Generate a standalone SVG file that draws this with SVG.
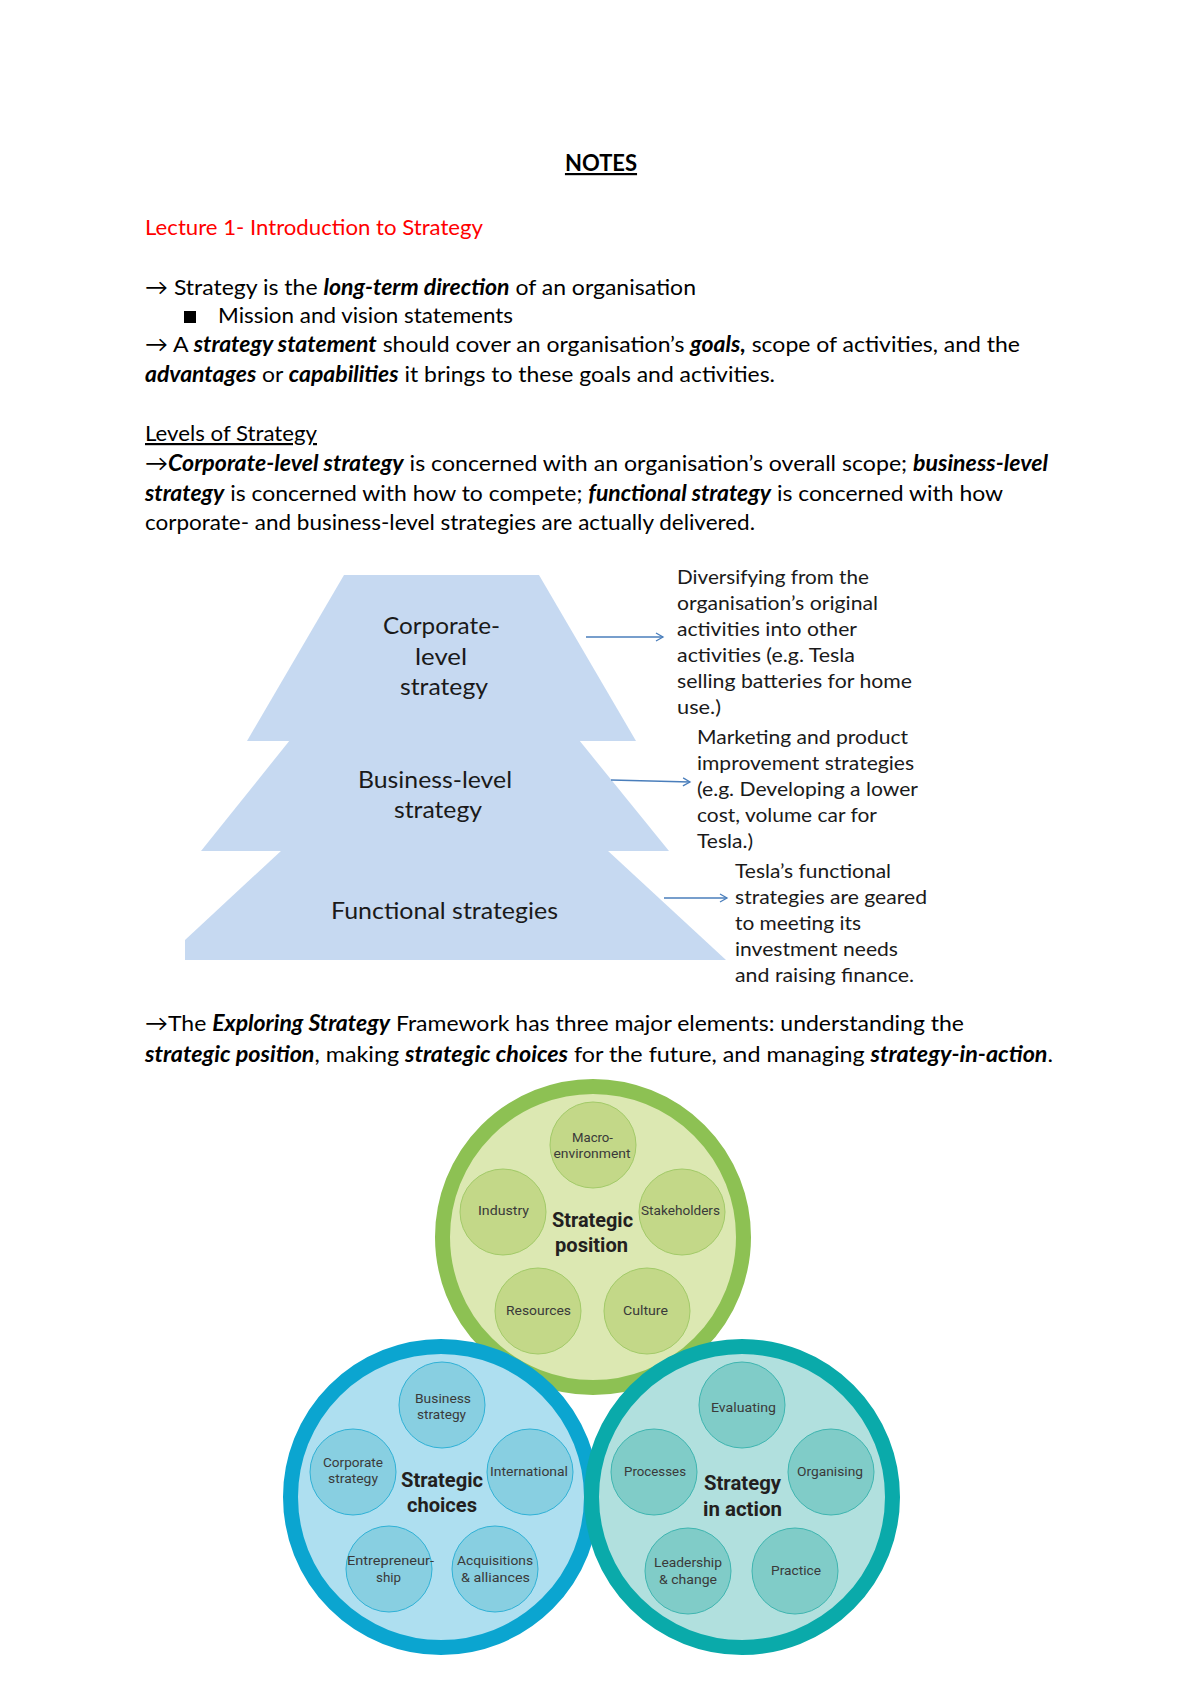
<svg xmlns="http://www.w3.org/2000/svg" width="1200" height="1698" viewBox="0 0 1200 1698">
<style>
.t{font-family:Lato,"Liberation Sans",sans-serif;font-size:22px;fill:#000}
.bi{font-weight:bold;font-style:italic}
.h{font-weight:bold;text-decoration:underline;text-anchor:middle}
.red{fill:#FF0000}
.u{text-decoration:underline}
.pyr{font-family:Lato,"Liberation Sans",sans-serif;font-size:24px;fill:#1a1a1a;text-anchor:middle}
.tier{fill:#C6D9F1}
.note{font-family:Lato,"Liberation Sans",sans-serif;font-size:20px;fill:#1a1a1a}
.conn{stroke:#4A7EBB;stroke-width:1.3;fill:none}
.big{font-family:Roboto,"Liberation Sans",sans-serif;font-weight:bold;font-size:19.5px;fill:#231F20;text-anchor:middle}
.sm{font-family:Roboto,"Liberation Sans",sans-serif;font-size:13.5px;fill:#3a3a3a;text-anchor:middle}
.gR{fill:#DCE8B2;stroke:#8DC153;stroke-width:15}
.gS{fill:#C3D888;stroke:#A2CA68;stroke-width:1}
.bR{fill:#AEDFF0;stroke:#0BA5D0;stroke-width:15}
.bS{fill:#88CFE1;stroke:#2FB1D6;stroke-width:1}
.tR{fill:#B1E0DE;stroke:#0AAAAA;stroke-width:15}
.tS{fill:#80CCC8;stroke:#3EB5B0;stroke-width:1}
</style>
<defs>
<marker id="ah" markerUnits="userSpaceOnUse" markerWidth="10" markerHeight="10" refX="8" refY="5" orient="auto">
<path d="M1,1 L8,5 L1,9" fill="none" stroke="#4A7EBB" stroke-width="1.3"/>
</marker>
</defs>
<rect width="1200" height="1698" fill="#ffffff"/>

<g id="notes-text">
<text class="t h" x="601" y="171">NOTES</text>
<text class="t red" x="145" y="235" textLength="338" lengthAdjust="spacingAndGlyphs">Lecture 1- Introduction to Strategy</text>
<text class="t" x="145" y="295" textLength="551" lengthAdjust="spacingAndGlyphs">→ Strategy is the <tspan class="bi">long-term direction</tspan> of an organisation</text>
<rect x="184" y="311" width="12" height="12" fill="#000"/>
<text class="t" x="218" y="323" textLength="295" lengthAdjust="spacingAndGlyphs">Mission and vision statements</text>
<text class="t" x="145" y="352" textLength="875" lengthAdjust="spacingAndGlyphs">→ A <tspan class="bi">strategy statement</tspan> should cover an organisation’s <tspan class="bi">goals,</tspan> scope of activities, and the</text>
<text class="t" x="145" y="382" textLength="630" lengthAdjust="spacingAndGlyphs"><tspan class="bi">advantages</tspan> or <tspan class="bi">capabilities</tspan> it brings to these goals and activities.</text>
<text class="t u" x="145" y="441" textLength="172" lengthAdjust="spacingAndGlyphs">Levels of Strategy</text>
<text class="t" x="145" y="471" textLength="903" lengthAdjust="spacingAndGlyphs">→<tspan class="bi">Corporate-level strategy</tspan> is concerned with an organisation’s overall scope; <tspan class="bi">business-level</tspan></text>
<text class="t" x="145" y="501" textLength="858" lengthAdjust="spacingAndGlyphs"><tspan class="bi">strategy</tspan> is concerned with how to compete; <tspan class="bi">functional strategy</tspan> is concerned with how</text>
<text class="t" x="145" y="530" textLength="610" lengthAdjust="spacingAndGlyphs">corporate- and business-level strategies are actually delivered.</text>
<text class="t" x="145" y="1031" textLength="819" lengthAdjust="spacingAndGlyphs">→The <tspan class="bi">Exploring Strategy</tspan> Framework has three major elements: understanding the</text>
<text class="t" x="145" y="1062" textLength="908" lengthAdjust="spacingAndGlyphs"><tspan class="bi">strategic position</tspan>, making <tspan class="bi">strategic choices</tspan> for the future, and managing <tspan class="bi">strategy-in-action</tspan>.</text>
</g>

<g id="tier-corporate">
<polygon class="tier" points="344,575 539,575 636,741 247,741"/>
<text class="pyr" x="441.5" y="634" textLength="117" lengthAdjust="spacingAndGlyphs">Corporate-</text>
<text class="pyr" x="441" y="665" textLength="52" lengthAdjust="spacingAndGlyphs">level</text>
<text class="pyr" x="444" y="695" textLength="88" lengthAdjust="spacingAndGlyphs">strategy</text>
</g>
<g id="tier-business">
<polygon class="tier" points="290,740 579,740 669,851 201,851"/>
<text class="pyr" x="435" y="788" textLength="154" lengthAdjust="spacingAndGlyphs">Business-level</text>
<text class="pyr" x="438" y="818" textLength="88" lengthAdjust="spacingAndGlyphs">strategy</text>
</g>
<g id="tier-functional">
<polygon class="tier" points="282,850 607,850 726,960 185,960 185,940"/>
<text class="pyr" x="444.5" y="919" textLength="227" lengthAdjust="spacingAndGlyphs">Functional strategies</text>
</g>

<g id="note-corporate">
<text class="note" x="677" y="584" textLength="192" lengthAdjust="spacingAndGlyphs">Diversifying from the</text>
<text class="note" x="677" y="610" textLength="201" lengthAdjust="spacingAndGlyphs">organisation’s original</text>
<text class="note" x="677" y="636" textLength="180" lengthAdjust="spacingAndGlyphs">activities into other</text>
<text class="note" x="677" y="662" textLength="178" lengthAdjust="spacingAndGlyphs">activities (e.g. Tesla</text>
<text class="note" x="677" y="688" textLength="235" lengthAdjust="spacingAndGlyphs">selling batteries for home</text>
<text class="note" x="677" y="714" textLength="44" lengthAdjust="spacingAndGlyphs">use.)</text>
</g>
<g id="note-business">
<text class="note" x="697" y="744" textLength="211" lengthAdjust="spacingAndGlyphs">Marketing and product</text>
<text class="note" x="697" y="770" textLength="217" lengthAdjust="spacingAndGlyphs">improvement strategies</text>
<text class="note" x="697" y="796" textLength="221" lengthAdjust="spacingAndGlyphs">(e.g. Developing a lower</text>
<text class="note" x="697" y="822" textLength="180" lengthAdjust="spacingAndGlyphs">cost, volume car for</text>
<text class="note" x="697" y="848" textLength="56" lengthAdjust="spacingAndGlyphs">Tesla.)</text>
</g>
<g id="note-functional">
<text class="note" x="735" y="878" textLength="156" lengthAdjust="spacingAndGlyphs">Tesla’s functional</text>
<text class="note" x="735" y="904" textLength="192" lengthAdjust="spacingAndGlyphs">strategies are geared</text>
<text class="note" x="735" y="930" textLength="126" lengthAdjust="spacingAndGlyphs">to meeting its</text>
<text class="note" x="735" y="956" textLength="163" lengthAdjust="spacingAndGlyphs">investment needs</text>
<text class="note" x="735" y="982" textLength="179" lengthAdjust="spacingAndGlyphs">and raising finance.</text>
</g>

<g id="connectors">
<line class="conn" x1="586" y1="637" x2="663" y2="637" marker-end="url(#ah)"/>
<line class="conn" x1="611" y1="780" x2="690" y2="782" marker-end="url(#ah)"/>
<line class="conn" x1="664" y1="898" x2="727" y2="898" marker-end="url(#ah)"/>
</g>

<g id="strategic-position">
<circle class="gR" cx="593" cy="1237" r="150.5"/>
<circle class="gS" cx="593" cy="1145" r="43"/>
<circle class="gS" cx="503" cy="1212" r="43"/>
<circle class="gS" cx="682" cy="1212" r="43"/>
<circle class="gS" cx="538" cy="1311" r="43"/>
<circle class="gS" cx="647" cy="1311" r="43"/>
<text class="sm" x="592.5" y="1142" textLength="41" lengthAdjust="spacingAndGlyphs">Macro-</text>
<text class="sm" x="592" y="1158" textLength="77" lengthAdjust="spacingAndGlyphs">environment</text>
<text class="sm" x="503.5" y="1215" textLength="51" lengthAdjust="spacingAndGlyphs">Industry</text>
<text class="sm" x="680.5" y="1215" textLength="79" lengthAdjust="spacingAndGlyphs">Stakeholders</text>
<text class="sm" x="538.5" y="1315" textLength="65" lengthAdjust="spacingAndGlyphs">Resources</text>
<text class="sm" x="645.5" y="1315" textLength="45" lengthAdjust="spacingAndGlyphs">Culture</text>
<text class="big" x="592.5" y="1227" textLength="81" lengthAdjust="spacingAndGlyphs">Strategic</text>
<text class="big" x="591.5" y="1252" textLength="73" lengthAdjust="spacingAndGlyphs">position</text>
</g>

<g id="strategic-choices">
<circle class="bR" cx="441" cy="1497" r="150.5"/>
<circle class="bS" cx="442" cy="1405" r="43"/>
<circle class="bS" cx="353" cy="1472" r="43"/>
<circle class="bS" cx="530" cy="1472" r="43"/>
<circle class="bS" cx="389" cy="1569" r="43"/>
<circle class="bS" cx="495" cy="1569" r="43"/>
<text class="sm" x="443" y="1403" textLength="56" lengthAdjust="spacingAndGlyphs">Business</text>
<text class="sm" x="441.5" y="1419" textLength="49" lengthAdjust="spacingAndGlyphs">strategy</text>
<text class="sm" x="353" y="1467" textLength="60" lengthAdjust="spacingAndGlyphs">Corporate</text>
<text class="sm" x="353" y="1483" textLength="50" lengthAdjust="spacingAndGlyphs">strategy</text>
<text class="sm" x="529" y="1476" textLength="78" lengthAdjust="spacingAndGlyphs">International</text>
<text class="sm" x="390.5" y="1565" textLength="87" lengthAdjust="spacingAndGlyphs">Entrepreneur-</text>
<text class="sm" x="388.5" y="1582" textLength="25" lengthAdjust="spacingAndGlyphs">ship</text>
<text class="sm" x="495" y="1565" textLength="76" lengthAdjust="spacingAndGlyphs">Acquisitions</text>
<text class="sm" x="495.5" y="1582" textLength="69" lengthAdjust="spacingAndGlyphs">&amp; alliances</text>
<text class="big" x="442" y="1487" textLength="82" lengthAdjust="spacingAndGlyphs">Strategic</text>
<text class="big" x="442" y="1512" textLength="70" lengthAdjust="spacingAndGlyphs">choices</text>
</g>

<g id="strategy-in-action">
<circle class="tR" cx="742" cy="1497" r="150.5"/>
<circle class="tS" cx="742" cy="1405" r="43"/>
<circle class="tS" cx="654" cy="1472" r="43"/>
<circle class="tS" cx="831" cy="1472" r="43"/>
<circle class="tS" cx="688" cy="1571" r="43"/>
<circle class="tS" cx="795" cy="1571" r="43"/>
<text class="sm" x="743.5" y="1412" textLength="65" lengthAdjust="spacingAndGlyphs">Evaluating</text>
<text class="sm" x="655" y="1476" textLength="62" lengthAdjust="spacingAndGlyphs">Processes</text>
<text class="sm" x="830" y="1476" textLength="66" lengthAdjust="spacingAndGlyphs">Organising</text>
<text class="sm" x="688" y="1567" textLength="68" lengthAdjust="spacingAndGlyphs">Leadership</text>
<text class="sm" x="688" y="1584" textLength="58" lengthAdjust="spacingAndGlyphs">&amp; change</text>
<text class="sm" x="796" y="1575" textLength="50" lengthAdjust="spacingAndGlyphs">Practice</text>
<text class="big" x="742.5" y="1490" textLength="77" lengthAdjust="spacingAndGlyphs">Strategy</text>
<text class="big" x="742.5" y="1516" textLength="79" lengthAdjust="spacingAndGlyphs">in action</text>
</g>
</svg>
